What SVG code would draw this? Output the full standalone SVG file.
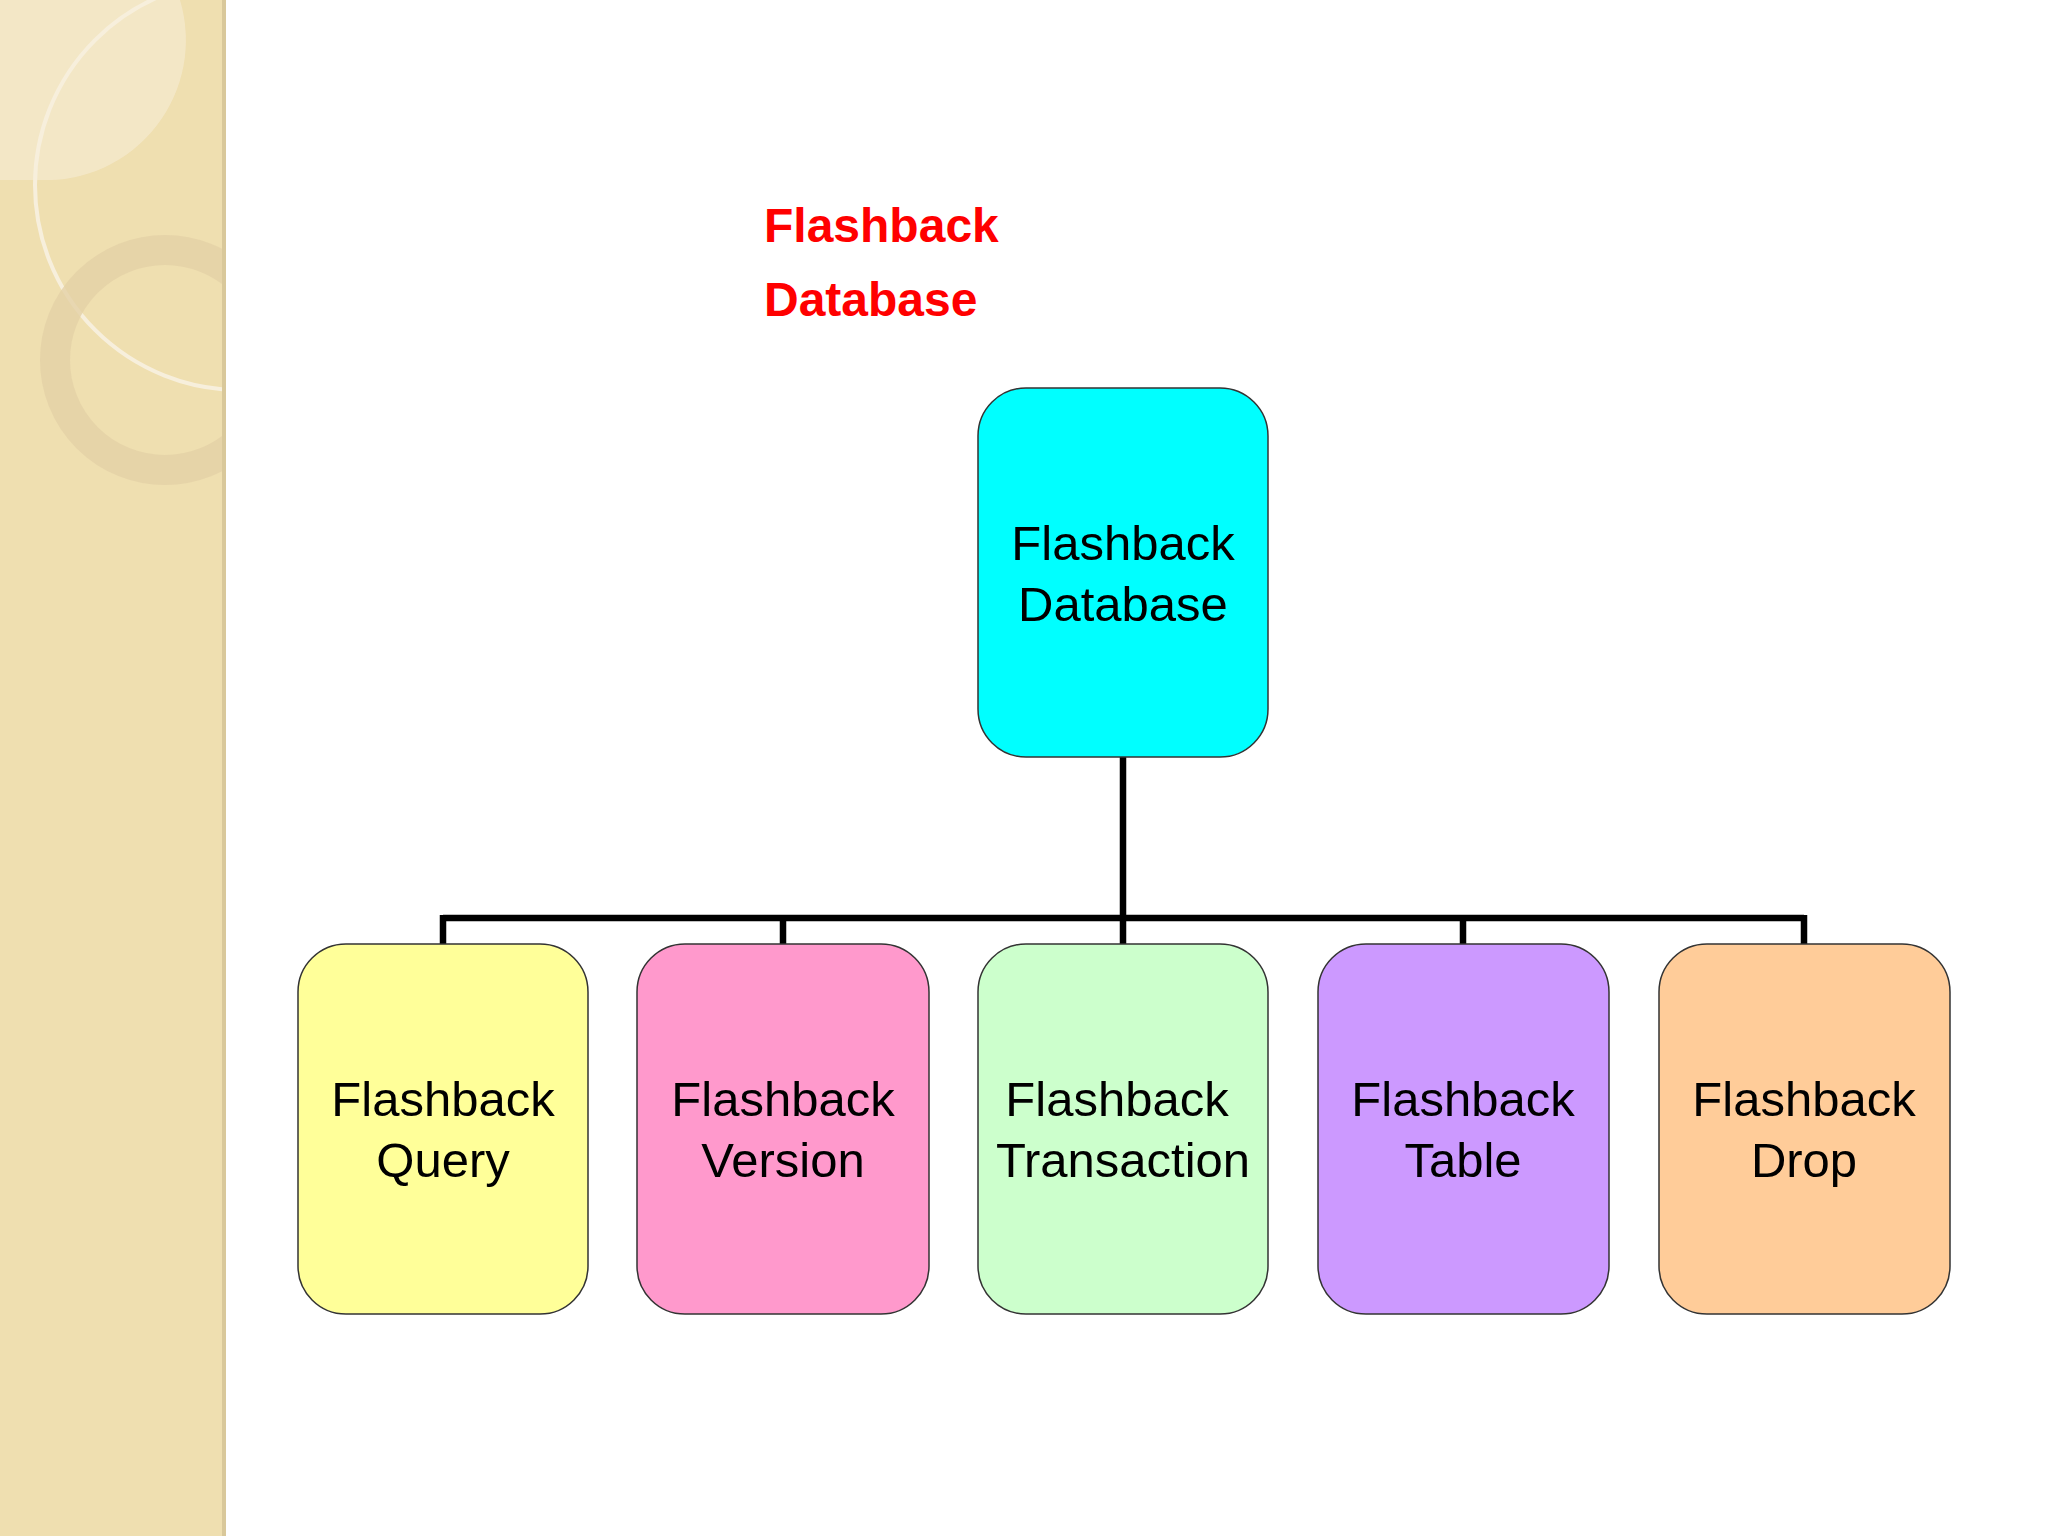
<svg xmlns="http://www.w3.org/2000/svg" width="2048" height="1536" viewBox="0 0 2048 1536">
<style>
.n{stroke:#333;stroke-width:1.5}
.t{font-family:"Liberation Sans",Arial,sans-serif;font-size:49px;fill:#000;text-anchor:middle}
.h{font-family:"Liberation Sans",Arial,sans-serif;font-size:48px;font-weight:bold;fill:#ff0000}
.c{stroke:#000;stroke-width:6.5;fill:none}
</style>
<defs><clipPath id="sb"><rect x="0" y="0" width="222" height="1536"/></clipPath></defs>
<rect width="2048" height="1536" fill="#fff"/>
<g id="sidebar">
<rect x="0" y="0" width="226" height="1536" fill="#efdfb0"/>
<rect x="222" y="0" width="4" height="1536" fill="#d9c89a"/>
<g clip-path="url(#sb)">
<path d="M0 0 H180 A140 140 0 0 1 40 180 H0 Z" fill="#f5ead0" opacity="0.7"/>
<circle cx="240" cy="185" r="205" fill="none" stroke="#f7efdc" stroke-width="4"/>
<circle cx="165" cy="360" r="110" fill="none" stroke="#e3d1a6" stroke-width="30" opacity="0.8"/>
</g>
</g>
<g id="title">
<text class="h" x="764" y="242">Flashback</text>
<text class="h" x="764" y="316">Database</text>
</g>
<g id="connectors">
<path class="c" d="M1123 757 V918 M443 918 H1804 M443 915 V944 M783 915 V944 M1123 915 V944 M1463 915 V944 M1804 915 V944"/>
</g>
<g id="root"><rect class="n" x="978" y="388" width="290" height="369" rx="48" fill="#00ffff"/>
<text class="t" x="1123" y="560">Flashback</text><text class="t" x="1123" y="621">Database</text></g>
<g id="query"><rect class="n" x="298" y="944" width="290" height="370" rx="48" fill="#ffff99"/>
<text class="t" x="443" y="1116">Flashback</text><text class="t" x="443" y="1177">Query</text></g>
<g id="version"><rect class="n" x="637" y="944" width="292" height="370" rx="48" fill="#ff99cc"/>
<text class="t" x="783" y="1116">Flashback</text><text class="t" x="783" y="1177">Version</text></g>
<g id="transaction"><rect class="n" x="978" y="944" width="290" height="370" rx="48" fill="#ccffcc"/>
<text class="t" x="1117" y="1116">Flashback</text><text class="t" x="1123" y="1177">Transaction</text></g>
<g id="table"><rect class="n" x="1318" y="944" width="291" height="370" rx="48" fill="#cc99ff"/>
<text class="t" x="1463" y="1116">Flashback</text><text class="t" x="1463" y="1177">Table</text></g>
<g id="drop"><rect class="n" x="1659" y="944" width="291" height="370" rx="48" fill="#ffcc99"/>
<text class="t" x="1804" y="1116">Flashback</text><text class="t" x="1804" y="1177">Drop</text></g>
</svg>
